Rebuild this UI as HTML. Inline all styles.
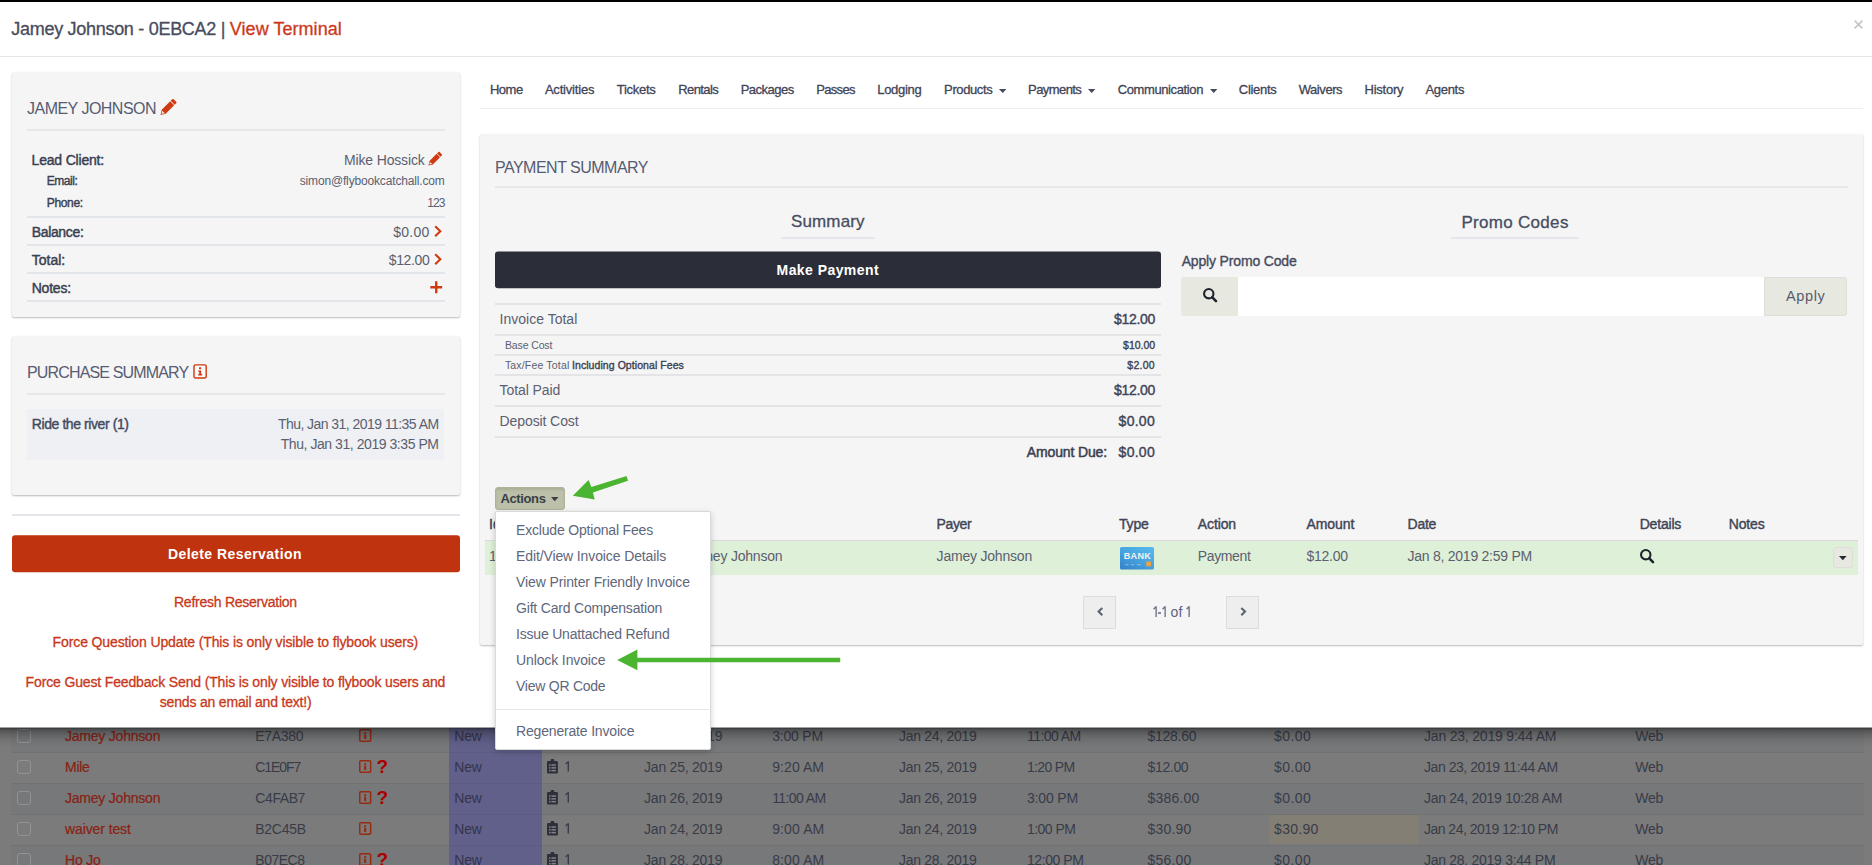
<!DOCTYPE html>
<html><head><meta charset="utf-8"><title>Reservation</title>
<style>
html,body{margin:0;padding:0}
body{width:1872px;height:865px;position:relative;overflow:hidden;background:#7b7b7b;font-family:"Liberation Sans",sans-serif;}
.t{position:absolute;white-space:nowrap;}
.b{position:absolute;box-sizing:border-box;}
svg{position:absolute;overflow:visible}
</style></head><body>
<div class="b" style="left:11px;top:720px;width:1853px;height:32px;background:#76787a;"></div>
<div class="b" style="left:11px;top:783px;width:1853px;height:31px;background:#76787a;"></div>
<div class="b" style="left:11px;top:845px;width:1853px;height:31px;background:#76787a;"></div>
<div class="b" style="left:1269px;top:814.3px;width:150px;height:30px;background:#837f75;"></div>
<div class="b" style="left:11px;top:751.5px;width:1853px;height:1px;background:#707172;"></div>
<div class="b" style="left:11px;top:782.5px;width:1853px;height:1px;background:#707172;"></div>
<div class="b" style="left:11px;top:813.5px;width:1853px;height:1px;background:#707172;"></div>
<div class="b" style="left:11px;top:844.5px;width:1853px;height:1px;background:#707172;"></div>
<div class="b" style="left:449px;top:728px;width:93px;height:140px;background:#60608a;"></div>
<div class="b" style="left:449px;top:751.5px;width:93px;height:1px;background:#5b5b85;"></div>
<div class="b" style="left:449px;top:782.5px;width:93px;height:1px;background:#5b5b85;"></div>
<div class="b" style="left:449px;top:813.5px;width:93px;height:1px;background:#5b5b85;"></div>
<div class="b" style="left:449px;top:844.5px;width:93px;height:1px;background:#5b5b85;"></div>
<div class="b" style="left:16.5px;top:728.8px;width:14px;height:14px;border:1.5px solid #929395;border-radius:3px;"></div>
<span class="t" style="left:65.00px;top:728px;line-height:16px;font-size:14px;color:#8a2112;letter-spacing:-0.220px;-webkit-text-stroke:0.2px #8a2112;">Jamey Johnson</span>
<span class="t" style="left:255.30px;top:728px;line-height:16px;font-size:14px;color:#393b48;letter-spacing:-0.303px;">E7A380</span>
<svg style="left:358.9px;top:728.8px" width="12.4" height="13" viewBox="0 0 12.4 13"><rect x="0.75" y="0.75" width="10.9" height="11.5" rx="1" fill="none" stroke="#982a10" stroke-width="1.5"/><rect x="5.1" y="3.2" width="2.1" height="1.7" fill="#982a10"/><rect x="5.1" y="5.6" width="2.1" height="4.4" fill="#982a10"/></svg>
<span class="t" style="left:454.30px;top:728px;line-height:16px;font-size:14px;color:#34344c;letter-spacing:-0.202px;">New</span>
<span class="t" style="left:772.20px;top:728px;line-height:16px;font-size:14px;color:#393b48;letter-spacing:-0.205px;">3:00 PM</span>
<span class="t" style="left:899.00px;top:728px;line-height:16px;font-size:14px;color:#393b48;letter-spacing:-0.280px;">Jan 24, 2019</span>
<span class="t" style="left:1027.00px;top:728px;line-height:16px;font-size:14px;color:#393b48;letter-spacing:-0.552px;">11:00 AM</span>
<span class="t" style="left:1147.50px;top:728px;line-height:16px;font-size:14px;color:#393b48;letter-spacing:-0.272px;">$128.60</span>
<span class="t" style="left:1274.10px;top:728px;line-height:16px;font-size:14px;color:#393b48;letter-spacing:0.413px;">$0.00</span>
<span class="t" style="left:1424.00px;top:728px;line-height:16px;font-size:14px;color:#393b48;letter-spacing:-0.196px;">Jan 23, 2019 9:44 AM</span>
<span class="t" style="left:1635.20px;top:728px;line-height:16px;font-size:14px;color:#393b48;letter-spacing:-0.244px;">Web</span>
<div class="b" style="left:16.5px;top:759.8px;width:14px;height:14px;border:1.5px solid #929395;border-radius:3px;"></div>
<span class="t" style="left:65.00px;top:759px;line-height:16px;font-size:14px;color:#8a2112;letter-spacing:-0.267px;-webkit-text-stroke:0.2px #8a2112;">Mile</span>
<span class="t" style="left:255.30px;top:759px;line-height:16px;font-size:14px;color:#393b48;letter-spacing:-1.060px;">C1E0F7</span>
<svg style="left:358.9px;top:759.8px" width="12.4" height="13" viewBox="0 0 12.4 13"><rect x="0.75" y="0.75" width="10.9" height="11.5" rx="1" fill="none" stroke="#982a10" stroke-width="1.5"/><rect x="5.1" y="3.2" width="2.1" height="1.7" fill="#982a10"/><rect x="5.1" y="5.6" width="2.1" height="4.4" fill="#982a10"/></svg>
<span class="t" style="left:376.60px;top:756px;line-height:21px;font-size:19px;color:#ac0000;font-weight:700;">?</span>
<span class="t" style="left:454.30px;top:759px;line-height:16px;font-size:14px;color:#34344c;letter-spacing:-0.202px;">New</span>
<svg style="left:547px;top:758.5999999999999px" width="10.9" height="14.6" viewBox="0 0 10.9 14.6"><rect x="0" y="1.9" width="10.9" height="12.7" rx="1.3" fill="#2d303b"/><rect x="3.7" y="0" width="3.5" height="3" rx="0.8" fill="#2d303b"/><g fill="#82838a"><rect x="2" y="5.3" width="1.5" height="1.5"/><rect x="4.4" y="5.3" width="4.5" height="1.5"/><rect x="2" y="8.1" width="1.5" height="1.5"/><rect x="4.4" y="8.1" width="4.5" height="1.5"/><rect x="2" y="10.9" width="1.5" height="1.5"/><rect x="4.4" y="10.9" width="4.5" height="1.5"/></g></svg>
<svg style="left:565px;top:760.8px" width="4.2" height="10.5" viewBox="0 0 4.2 10.5"><path d="M0.2 2.5L2.7 0.2H4V10.5H2.6V2.1L1 3.6Z" fill="#393b48"/></svg>
<span class="t" style="left:644.10px;top:759px;line-height:16px;font-size:14px;color:#393b48;letter-spacing:-0.238px;">Jan 25, 2019</span>
<span class="t" style="left:772.20px;top:759px;line-height:16px;font-size:14px;color:#393b48;letter-spacing:0.076px;">9:20 AM</span>
<span class="t" style="left:899.00px;top:759px;line-height:16px;font-size:14px;color:#393b48;letter-spacing:-0.280px;">Jan 25, 2019</span>
<span class="t" style="left:1027.00px;top:759px;line-height:16px;font-size:14px;color:#393b48;letter-spacing:-0.677px;">1:20 PM</span>
<span class="t" style="left:1147.50px;top:759px;line-height:16px;font-size:14px;color:#393b48;letter-spacing:-0.337px;">$12.00</span>
<span class="t" style="left:1274.10px;top:759px;line-height:16px;font-size:14px;color:#393b48;letter-spacing:0.413px;">$0.00</span>
<span class="t" style="left:1424.00px;top:759px;line-height:16px;font-size:14px;color:#393b48;letter-spacing:-0.446px;">Jan 23, 2019 11:44 AM</span>
<span class="t" style="left:1635.20px;top:759px;line-height:16px;font-size:14px;color:#393b48;letter-spacing:-0.244px;">Web</span>
<div class="b" style="left:16.5px;top:790.8px;width:14px;height:14px;border:1.5px solid #929395;border-radius:3px;"></div>
<span class="t" style="left:65.00px;top:790px;line-height:16px;font-size:14px;color:#8a2112;letter-spacing:-0.220px;-webkit-text-stroke:0.2px #8a2112;">Jamey Johnson</span>
<span class="t" style="left:255.30px;top:790px;line-height:16px;font-size:14px;color:#393b48;letter-spacing:-0.406px;">C4FAB7</span>
<svg style="left:358.9px;top:790.8px" width="12.4" height="13" viewBox="0 0 12.4 13"><rect x="0.75" y="0.75" width="10.9" height="11.5" rx="1" fill="none" stroke="#982a10" stroke-width="1.5"/><rect x="5.1" y="3.2" width="2.1" height="1.7" fill="#982a10"/><rect x="5.1" y="5.6" width="2.1" height="4.4" fill="#982a10"/></svg>
<span class="t" style="left:376.60px;top:787px;line-height:21px;font-size:19px;color:#ac0000;font-weight:700;">?</span>
<span class="t" style="left:454.30px;top:790px;line-height:16px;font-size:14px;color:#34344c;letter-spacing:-0.202px;">New</span>
<svg style="left:547px;top:789.5999999999999px" width="10.9" height="14.6" viewBox="0 0 10.9 14.6"><rect x="0" y="1.9" width="10.9" height="12.7" rx="1.3" fill="#2d303b"/><rect x="3.7" y="0" width="3.5" height="3" rx="0.8" fill="#2d303b"/><g fill="#82838a"><rect x="2" y="5.3" width="1.5" height="1.5"/><rect x="4.4" y="5.3" width="4.5" height="1.5"/><rect x="2" y="8.1" width="1.5" height="1.5"/><rect x="4.4" y="8.1" width="4.5" height="1.5"/><rect x="2" y="10.9" width="1.5" height="1.5"/><rect x="4.4" y="10.9" width="4.5" height="1.5"/></g></svg>
<svg style="left:565px;top:791.8px" width="4.2" height="10.5" viewBox="0 0 4.2 10.5"><path d="M0.2 2.5L2.7 0.2H4V10.5H2.6V2.1L1 3.6Z" fill="#393b48"/></svg>
<span class="t" style="left:644.10px;top:790px;line-height:16px;font-size:14px;color:#393b48;letter-spacing:-0.238px;">Jan 26, 2019</span>
<span class="t" style="left:772.20px;top:790px;line-height:16px;font-size:14px;color:#393b48;letter-spacing:-0.589px;">11:00 AM</span>
<span class="t" style="left:899.00px;top:790px;line-height:16px;font-size:14px;color:#393b48;letter-spacing:-0.280px;">Jan 26, 2019</span>
<span class="t" style="left:1027.00px;top:790px;line-height:16px;font-size:14px;color:#393b48;letter-spacing:-0.163px;">3:00 PM</span>
<span class="t" style="left:1147.50px;top:790px;line-height:16px;font-size:14px;color:#393b48;letter-spacing:0.199px;">$386.00</span>
<span class="t" style="left:1274.10px;top:790px;line-height:16px;font-size:14px;color:#393b48;letter-spacing:0.413px;">$0.00</span>
<span class="t" style="left:1424.00px;top:790px;line-height:16px;font-size:14px;color:#393b48;letter-spacing:-0.281px;">Jan 24, 2019 10:28 AM</span>
<span class="t" style="left:1635.20px;top:790px;line-height:16px;font-size:14px;color:#393b48;letter-spacing:-0.244px;">Web</span>
<div class="b" style="left:16.5px;top:821.8px;width:14px;height:14px;border:1.5px solid #929395;border-radius:3px;"></div>
<span class="t" style="left:65.00px;top:821px;line-height:16px;font-size:14px;color:#8a2112;letter-spacing:-0.101px;-webkit-text-stroke:0.2px #8a2112;">waiver test</span>
<span class="t" style="left:255.30px;top:821px;line-height:16px;font-size:14px;color:#393b48;letter-spacing:-0.274px;">B2C45B</span>
<svg style="left:358.9px;top:821.8px" width="12.4" height="13" viewBox="0 0 12.4 13"><rect x="0.75" y="0.75" width="10.9" height="11.5" rx="1" fill="none" stroke="#982a10" stroke-width="1.5"/><rect x="5.1" y="3.2" width="2.1" height="1.7" fill="#982a10"/><rect x="5.1" y="5.6" width="2.1" height="4.4" fill="#982a10"/></svg>
<span class="t" style="left:454.30px;top:821px;line-height:16px;font-size:14px;color:#34344c;letter-spacing:-0.202px;">New</span>
<svg style="left:547px;top:820.5999999999999px" width="10.9" height="14.6" viewBox="0 0 10.9 14.6"><rect x="0" y="1.9" width="10.9" height="12.7" rx="1.3" fill="#2d303b"/><rect x="3.7" y="0" width="3.5" height="3" rx="0.8" fill="#2d303b"/><g fill="#82838a"><rect x="2" y="5.3" width="1.5" height="1.5"/><rect x="4.4" y="5.3" width="4.5" height="1.5"/><rect x="2" y="8.1" width="1.5" height="1.5"/><rect x="4.4" y="8.1" width="4.5" height="1.5"/><rect x="2" y="10.9" width="1.5" height="1.5"/><rect x="4.4" y="10.9" width="4.5" height="1.5"/></g></svg>
<svg style="left:565px;top:822.8px" width="4.2" height="10.5" viewBox="0 0 4.2 10.5"><path d="M0.2 2.5L2.7 0.2H4V10.5H2.6V2.1L1 3.6Z" fill="#393b48"/></svg>
<span class="t" style="left:644.10px;top:821px;line-height:16px;font-size:14px;color:#393b48;letter-spacing:-0.238px;">Jan 24, 2019</span>
<span class="t" style="left:772.20px;top:821px;line-height:16px;font-size:14px;color:#393b48;letter-spacing:0.119px;">9:00 AM</span>
<span class="t" style="left:899.00px;top:821px;line-height:16px;font-size:14px;color:#393b48;letter-spacing:-0.280px;">Jan 24, 2019</span>
<span class="t" style="left:1027.00px;top:821px;line-height:16px;font-size:14px;color:#393b48;letter-spacing:-0.548px;">1:00 PM</span>
<span class="t" style="left:1147.50px;top:821px;line-height:16px;font-size:14px;color:#393b48;letter-spacing:0.213px;">$30.90</span>
<span class="t" style="left:1274.10px;top:821px;line-height:16px;font-size:14px;color:#393b48;letter-spacing:0.263px;">$30.90</span>
<span class="t" style="left:1424.00px;top:821px;line-height:16px;font-size:14px;color:#393b48;letter-spacing:-0.522px;">Jan 24, 2019 12:10 PM</span>
<span class="t" style="left:1635.20px;top:821px;line-height:16px;font-size:14px;color:#393b48;letter-spacing:-0.244px;">Web</span>
<div class="b" style="left:16.5px;top:852.8px;width:14px;height:14px;border:1.5px solid #929395;border-radius:3px;"></div>
<span class="t" style="left:65.00px;top:852px;line-height:16px;font-size:14px;color:#8a2112;letter-spacing:-0.174px;-webkit-text-stroke:0.2px #8a2112;">Ho Jo</span>
<span class="t" style="left:255.30px;top:852px;line-height:16px;font-size:14px;color:#393b48;letter-spacing:-0.491px;">B07EC8</span>
<svg style="left:358.9px;top:852.8px" width="12.4" height="13" viewBox="0 0 12.4 13"><rect x="0.75" y="0.75" width="10.9" height="11.5" rx="1" fill="none" stroke="#982a10" stroke-width="1.5"/><rect x="5.1" y="3.2" width="2.1" height="1.7" fill="#982a10"/><rect x="5.1" y="5.6" width="2.1" height="4.4" fill="#982a10"/></svg>
<span class="t" style="left:376.60px;top:849px;line-height:21px;font-size:19px;color:#ac0000;font-weight:700;">?</span>
<span class="t" style="left:454.30px;top:852px;line-height:16px;font-size:14px;color:#34344c;letter-spacing:-0.202px;">New</span>
<svg style="left:547px;top:851.5999999999999px" width="10.9" height="14.6" viewBox="0 0 10.9 14.6"><rect x="0" y="1.9" width="10.9" height="12.7" rx="1.3" fill="#2d303b"/><rect x="3.7" y="0" width="3.5" height="3" rx="0.8" fill="#2d303b"/><g fill="#82838a"><rect x="2" y="5.3" width="1.5" height="1.5"/><rect x="4.4" y="5.3" width="4.5" height="1.5"/><rect x="2" y="8.1" width="1.5" height="1.5"/><rect x="4.4" y="8.1" width="4.5" height="1.5"/><rect x="2" y="10.9" width="1.5" height="1.5"/><rect x="4.4" y="10.9" width="4.5" height="1.5"/></g></svg>
<svg style="left:565px;top:853.8px" width="4.2" height="10.5" viewBox="0 0 4.2 10.5"><path d="M0.2 2.5L2.7 0.2H4V10.5H2.6V2.1L1 3.6Z" fill="#393b48"/></svg>
<span class="t" style="left:644.10px;top:852px;line-height:16px;font-size:14px;color:#393b48;letter-spacing:-0.238px;">Jan 28, 2019</span>
<span class="t" style="left:772.20px;top:852px;line-height:16px;font-size:14px;color:#393b48;letter-spacing:0.119px;">8:00 AM</span>
<span class="t" style="left:899.00px;top:852px;line-height:16px;font-size:14px;color:#393b48;letter-spacing:-0.280px;">Jan 28, 2019</span>
<span class="t" style="left:1027.00px;top:852px;line-height:16px;font-size:14px;color:#393b48;letter-spacing:-0.440px;">12:00 PM</span>
<span class="t" style="left:1147.50px;top:852px;line-height:16px;font-size:14px;color:#393b48;letter-spacing:0.213px;">$56.00</span>
<span class="t" style="left:1274.10px;top:852px;line-height:16px;font-size:14px;color:#393b48;letter-spacing:0.413px;">$0.00</span>
<span class="t" style="left:1424.00px;top:852px;line-height:16px;font-size:14px;color:#393b48;letter-spacing:-0.284px;">Jan 28, 2019 3:44 PM</span>
<span class="t" style="left:1635.20px;top:852px;line-height:16px;font-size:14px;color:#393b48;letter-spacing:-0.244px;">Web</span>
<span class="t" style="left:644.10px;top:728px;line-height:16px;font-size:14px;color:#393b48;letter-spacing:-0.238px;">Jan 24, 2019</span>
<div class="b" style="left:0px;top:728px;width:1872px;height:20px;background:linear-gradient(to bottom,rgba(0,0,0,.49) 0.5px,rgba(0,0,0,.38) 1.5px,rgba(0,0,0,.33) 2.5px,rgba(0,0,0,.28) 3.5px,rgba(0,0,0,.25) 4.5px,rgba(0,0,0,.22) 5.5px,rgba(0,0,0,.175) 7px,rgba(0,0,0,.09) 11px,rgba(0,0,0,.033) 15.5px,rgba(0,0,0,0) 20px);"></div>
<div class="b" style="left:0px;top:0px;width:1872px;height:727px;background:#fff;"></div>
<div class="b" style="left:0px;top:727px;width:1872px;height:1px;background:#a2a2a2;"></div>
<div class="b" style="left:0px;top:0px;width:1872px;height:1.5px;background:#000;"></div>
<div class="b" style="left:0px;top:56.2px;width:1872px;height:1px;background:#e5e5e5;"></div>
<span class="t" style="left:11.30px;top:19px;line-height:20px;font-size:18px;color:#474c60;letter-spacing:-0.291px;-webkit-text-stroke:0.3px #474c60;">Jamey Johnson - 0EBCA2 | </span>
<span class="t" style="left:229.80px;top:19px;line-height:20px;font-size:18px;color:#cc391a;letter-spacing:0.047px;-webkit-text-stroke:0.3px #cc391a;">View Terminal</span>
<svg style="left:1854px;top:20px" width="9" height="9" viewBox="0 0 9 9"><path d="M0.6 0.6L8.4 8.4M8.4 0.6L0.6 8.4" stroke="#c4c4c4" stroke-width="1.5" fill="none"/></svg>
<div class="b" style="left:11.5px;top:72px;width:448.5px;height:244.5px;background:#f5f5f5;box-shadow:0 1px 2px rgba(0,0,0,.28);border-radius:2px;"></div>
<span class="t" style="left:27.00px;top:100px;line-height:17px;font-size:16px;color:#565c72;letter-spacing:-0.517px;">JAMEY JOHNSON</span>
<svg style="left:159.8px;top:98.3px" width="17.2" height="17.50" viewBox="0 0 17 17.3"><path d="M0.5 16.8L1.7 11.64L10.04 3.3L14 7.26L5.66 15.6Z" fill="#d03a13"/><path d="M1.56 15.74L2.13 12.49L4.81 15.17Z" fill="#f8e6dc"/><path d="M10.54 2.8L12.1 1.24c0.4-0.4 1-0.4 1.4 0l2.56 2.56c0.4 0.4 0.4 1 0 1.4L14.5 6.76Z" fill="#d03a13"/></svg>
<div class="b" style="left:27px;top:129.3px;width:418px;height:1.6px;background:#e7e7e9;"></div>
<span class="t" style="left:31.60px;top:152px;line-height:16px;font-size:14px;color:#3a3f51;letter-spacing:-0.193px;-webkit-text-stroke:0.45px #3a3f51;">Lead Client:</span>
<span class="t" style="left:344.00px;top:152px;line-height:16px;font-size:14px;color:#5b6070;letter-spacing:-0.155px;">Mike Hossick</span>
<svg style="left:428.4px;top:151.3px" width="14.6" height="14.86" viewBox="0 0 17 17.3"><path d="M0.5 16.8L1.7 11.64L10.04 3.3L14 7.26L5.66 15.6Z" fill="#d03a13"/><path d="M1.56 15.74L2.13 12.49L4.81 15.17Z" fill="#f8e6dc"/><path d="M10.54 2.8L12.1 1.24c0.4-0.4 1-0.4 1.4 0l2.56 2.56c0.4 0.4 0.4 1 0 1.4L14.5 6.76Z" fill="#d03a13"/></svg>
<span class="t" style="left:46.70px;top:174px;line-height:14px;font-size:12px;color:#3a3f51;letter-spacing:-0.440px;-webkit-text-stroke:0.4px #3a3f51;">Email:</span>
<span class="t" style="left:299.70px;top:174px;line-height:14px;font-size:12px;color:#5b6070;letter-spacing:-0.156px;">simon@flybookcatchall.com</span>
<span class="t" style="left:46.70px;top:196px;line-height:14px;font-size:12px;color:#3a3f51;letter-spacing:-0.306px;-webkit-text-stroke:0.4px #3a3f51;">Phone:</span>
<span class="t" style="left:427.20px;top:196px;line-height:14px;font-size:12px;color:#5b6070;letter-spacing:-0.840px;">123</span>
<div class="b" style="left:27px;top:216px;width:418px;height:2px;background:#e2e5ea;"></div>
<div class="b" style="left:27px;top:244px;width:418px;height:2px;background:#e2e5ea;"></div>
<div class="b" style="left:27px;top:272px;width:418px;height:2px;background:#e2e5ea;"></div>
<div class="b" style="left:27px;top:300px;width:418px;height:2px;background:#e2e5ea;"></div>
<span class="t" style="left:31.70px;top:224px;line-height:16px;font-size:14px;color:#3a3f51;letter-spacing:-0.335px;-webkit-text-stroke:0.45px #3a3f51;">Balance:</span>
<span class="t" style="left:393.20px;top:224px;line-height:16px;font-size:14px;color:#5b6070;letter-spacing:0.253px;">$0.00</span>
<svg style="left:434px;top:225px" width="8" height="12.3" viewBox="0 0 8 12"><path d="M1.2 1L6.3 6L1.2 11" stroke="#d03a13" stroke-width="2.1" fill="none"/></svg>
<span class="t" style="left:31.70px;top:252px;line-height:16px;font-size:14px;color:#3a3f51;letter-spacing:0.006px;-webkit-text-stroke:0.45px #3a3f51;">Total:</span>
<span class="t" style="left:388.70px;top:252px;line-height:16px;font-size:14px;color:#5b6070;letter-spacing:-0.337px;">$12.00</span>
<svg style="left:434px;top:253px" width="8" height="12.3" viewBox="0 0 8 12"><path d="M1.2 1L6.3 6L1.2 11" stroke="#d03a13" stroke-width="2.1" fill="none"/></svg>
<span class="t" style="left:31.70px;top:280px;line-height:16px;font-size:14px;color:#3a3f51;letter-spacing:-0.210px;-webkit-text-stroke:0.45px #3a3f51;">Notes:</span>
<svg style="left:430px;top:281px" width="12.5" height="12.5" viewBox="0 0 12 12"><path d="M6 0.3V11.7M0.3 6H11.7" stroke="#d03a13" stroke-width="2.3"/></svg>
<div class="b" style="left:11.5px;top:335.5px;width:448.5px;height:159.3px;background:#f5f5f5;box-shadow:0 1px 2px rgba(0,0,0,.28);border-radius:2px;"></div>
<span class="t" style="left:27.00px;top:364px;line-height:17px;font-size:16px;color:#565c72;letter-spacing:-0.853px;">PURCHASE SUMMARY</span>
<svg style="left:192.9px;top:364.1px" width="14.2" height="14.9" viewBox="0 0 14 14.9"><rect x="0.9" y="0.9" width="12.2" height="13.1" rx="1.4" fill="#fafafa" stroke="#d03a13" stroke-width="1.45"/><rect x="5.9" y="3.3" width="2.2" height="1.9" fill="#d03a13"/><path d="M5.1 6.4h3v3.7h1v1.3H5.1v-1.3h1V7.7h-1z" fill="#d03a13"/></svg>
<div class="b" style="left:27px;top:393.3px;width:418px;height:1.6px;background:#e7e7e9;"></div>
<div class="b" style="left:27px;top:409px;width:417px;height:50.5px;background:#eef0f4;"></div>
<span class="t" style="left:31.80px;top:416px;line-height:16px;font-size:14px;color:#444a5e;letter-spacing:-0.420px;-webkit-text-stroke:0.4px #444a5e;">Ride the river (1)</span>
<span class="t" style="left:277.90px;top:416px;line-height:16px;font-size:14px;color:#5b6070;letter-spacing:-0.545px;">Thu, Jan 31, 2019 11:35 AM</span>
<span class="t" style="left:280.70px;top:436px;line-height:16px;font-size:14px;color:#5b6070;letter-spacing:-0.440px;">Thu, Jan 31, 2019 3:35 PM</span>
<div class="b" style="left:12px;top:513.8px;width:448px;height:1.8px;background:#e4e6ec;"></div>
<svg style="left:12px;top:534px" width="448" height="40"><rect x="0" y="1.35" width="448" height="37" rx="3" fill="#bf330e"/></svg>
<span class="t" style="left:167.90px;top:546px;line-height:16px;font-size:14px;color:#fff;font-weight:700;letter-spacing:0.447px;">Delete Reservation</span>
<span class="t" style="left:174.00px;top:594px;line-height:16px;font-size:14px;color:#c8381a;letter-spacing:-0.253px;-webkit-text-stroke:0.3px #c8381a;">Refresh Reservation</span>
<span class="t" style="left:52.60px;top:634px;line-height:16px;font-size:14px;color:#c8381a;letter-spacing:-0.117px;-webkit-text-stroke:0.3px #c8381a;">Force Question Update (This is only visible to flybook users)</span>
<span class="t" style="left:25.60px;top:674px;line-height:16px;font-size:14px;color:#c8381a;letter-spacing:-0.146px;-webkit-text-stroke:0.3px #c8381a;">Force Guest Feedback Send (This is only visible to flybook users and</span>
<span class="t" style="left:159.80px;top:694px;line-height:16px;font-size:14px;color:#c8381a;letter-spacing:-0.189px;-webkit-text-stroke:0.3px #c8381a;">sends an email and text!)</span>
<span class="t" style="left:489.90px;top:82px;line-height:15px;font-size:13px;color:#3f4456;letter-spacing:-0.469px;-webkit-text-stroke:0.3px #3f4456;">Home</span>
<span class="t" style="left:544.90px;top:82px;line-height:15px;font-size:13px;color:#3f4456;letter-spacing:-0.189px;-webkit-text-stroke:0.3px #3f4456;">Activities</span>
<span class="t" style="left:616.80px;top:82px;line-height:15px;font-size:13px;color:#3f4456;letter-spacing:-0.284px;-webkit-text-stroke:0.3px #3f4456;">Tickets</span>
<span class="t" style="left:678.20px;top:82px;line-height:15px;font-size:13px;color:#3f4456;letter-spacing:-0.583px;-webkit-text-stroke:0.3px #3f4456;">Rentals</span>
<span class="t" style="left:740.70px;top:82px;line-height:15px;font-size:13px;color:#3f4456;letter-spacing:-0.499px;-webkit-text-stroke:0.3px #3f4456;">Packages</span>
<span class="t" style="left:816.30px;top:82px;line-height:15px;font-size:13px;color:#3f4456;letter-spacing:-0.705px;-webkit-text-stroke:0.3px #3f4456;">Passes</span>
<span class="t" style="left:877.20px;top:82px;line-height:15px;font-size:13px;color:#3f4456;letter-spacing:-0.281px;-webkit-text-stroke:0.3px #3f4456;">Lodging</span>
<span class="t" style="left:944.10px;top:82px;line-height:15px;font-size:13px;color:#3f4456;letter-spacing:-0.388px;-webkit-text-stroke:0.3px #3f4456;">Products</span>
<span class="t" style="left:1028.10px;top:82px;line-height:15px;font-size:13px;color:#3f4456;letter-spacing:-0.575px;-webkit-text-stroke:0.3px #3f4456;">Payments</span>
<span class="t" style="left:1117.70px;top:82px;line-height:15px;font-size:13px;color:#3f4456;letter-spacing:-0.386px;-webkit-text-stroke:0.3px #3f4456;">Communication</span>
<span class="t" style="left:1238.80px;top:82px;line-height:15px;font-size:13px;color:#3f4456;letter-spacing:-0.305px;-webkit-text-stroke:0.3px #3f4456;">Clients</span>
<span class="t" style="left:1298.70px;top:82px;line-height:15px;font-size:13px;color:#3f4456;letter-spacing:-0.424px;-webkit-text-stroke:0.3px #3f4456;">Waivers</span>
<span class="t" style="left:1364.50px;top:82px;line-height:15px;font-size:13px;color:#3f4456;letter-spacing:-0.235px;-webkit-text-stroke:0.3px #3f4456;">History</span>
<span class="t" style="left:1425.40px;top:82px;line-height:15px;font-size:13px;color:#3f4456;letter-spacing:-0.295px;-webkit-text-stroke:0.3px #3f4456;">Agents</span>
<svg style="left:999.2px;top:88.8px" width="7.4" height="4.1" viewBox="0 0 7.4 4.1"><path d="M0 0H7.4L3.7 4.1Z" fill="#454a5d"/></svg>
<svg style="left:1088.4px;top:88.8px" width="7.4" height="4.1" viewBox="0 0 7.4 4.1"><path d="M0 0H7.4L3.7 4.1Z" fill="#454a5d"/></svg>
<svg style="left:1210px;top:88.8px" width="7.4" height="4.1" viewBox="0 0 7.4 4.1"><path d="M0 0H7.4L3.7 4.1Z" fill="#454a5d"/></svg>
<div class="b" style="left:480px;top:107.8px;width:1383px;height:1.6px;background:#eeeeee;"></div>
<div class="b" style="left:479.5px;top:134px;width:1383.5px;height:510.5px;background:#f5f5f5;box-shadow:0 1px 2px rgba(0,0,0,.28);border-radius:2px;"></div>
<span class="t" style="left:495.00px;top:159px;line-height:17px;font-size:16px;color:#565c72;letter-spacing:-0.508px;">PAYMENT SUMMARY</span>
<div class="b" style="left:495px;top:186.3px;width:1353px;height:1.6px;background:#e7e7e9;"></div>
<span class="t" style="left:790.90px;top:212px;line-height:19px;font-size:17px;color:#474d61;letter-spacing:0.167px;-webkit-text-stroke:0.3px #474d61;">Summary</span>
<div class="b" style="left:781px;top:237px;width:94px;height:1.5px;background:#e3e6ea;"></div>
<span class="t" style="left:1461.40px;top:213px;line-height:19px;font-size:17px;color:#474d61;letter-spacing:0.306px;-webkit-text-stroke:0.3px #474d61;">Promo Codes</span>
<div class="b" style="left:1451px;top:237px;width:128px;height:1.5px;background:#e3e6ea;"></div>
<svg style="left:495px;top:250px" width="666" height="40"><rect x="0" y="1.6" width="666" height="36.6" rx="3" fill="#2b2e38"/></svg>
<span class="t" style="left:776.55px;top:262px;line-height:16px;font-size:14px;color:#fff;font-weight:700;letter-spacing:0.436px;">Make Payment</span>
<div class="b" style="left:495px;top:303.2px;width:666px;height:1.6px;background:#e4e4e6;"></div>
<div class="b" style="left:495px;top:334.1px;width:666px;height:1.6px;background:#e4e4e6;"></div>
<div class="b" style="left:495px;top:354.3px;width:666px;height:1.6px;background:#e4e4e6;"></div>
<div class="b" style="left:495px;top:374.4px;width:666px;height:1.6px;background:#e4e4e6;"></div>
<div class="b" style="left:495px;top:405.1px;width:666px;height:1.6px;background:#e4e4e6;"></div>
<div class="b" style="left:495px;top:436.2px;width:666px;height:1.6px;background:#e4e4e6;"></div>
<span class="t" style="left:499.60px;top:311px;line-height:16px;font-size:14px;color:#5b6070;letter-spacing:0.010px;">Invoice Total</span>
<span class="t" style="left:1114.00px;top:311px;line-height:16px;font-size:14px;color:#3f4457;letter-spacing:-0.303px;-webkit-text-stroke:0.4px #3f4457;">$12.00</span>
<span class="t" style="left:504.90px;top:339px;line-height:12px;font-size:10.5px;color:#5b6070;letter-spacing:-0.115px;">Base Cost</span>
<span class="t" style="left:1123.10px;top:339px;line-height:12px;font-size:10.5px;color:#3a3f51;letter-spacing:-0.036px;-webkit-text-stroke:0.35px #3a3f51;">$10.00</span>
<span class="t" style="left:504.90px;top:359px;line-height:12px;font-size:10.5px;color:#5b6070;letter-spacing:0.173px;">Tax/Fee Total</span>
<span class="t" style="left:572.00px;top:359px;line-height:12px;font-size:10.5px;color:#3a3f51;letter-spacing:0.069px;-webkit-text-stroke:0.35px #3a3f51;">Including Optional Fees</span>
<span class="t" style="left:1127.30px;top:359px;line-height:12px;font-size:10.5px;color:#3a3f51;letter-spacing:0.285px;-webkit-text-stroke:0.35px #3a3f51;">$2.00</span>
<span class="t" style="left:499.60px;top:382px;line-height:16px;font-size:14px;color:#5b6070;letter-spacing:-0.078px;">Total Paid</span>
<span class="t" style="left:1114.00px;top:382px;line-height:16px;font-size:14px;color:#3f4457;letter-spacing:-0.303px;-webkit-text-stroke:0.4px #3f4457;">$12.00</span>
<span class="t" style="left:499.60px;top:413px;line-height:16px;font-size:14px;color:#5b6070;letter-spacing:-0.104px;">Deposit Cost</span>
<span class="t" style="left:1118.60px;top:413px;line-height:16px;font-size:14px;color:#3f4457;letter-spacing:0.273px;-webkit-text-stroke:0.4px #3f4457;">$0.00</span>
<span class="t" style="left:1026.80px;top:444px;line-height:16px;font-size:14px;color:#3a3f51;letter-spacing:-0.137px;-webkit-text-stroke:0.5px #3a3f51;">Amount Due:</span>
<span class="t" style="left:1118.60px;top:444px;line-height:16px;font-size:14px;color:#3f4457;letter-spacing:0.273px;-webkit-text-stroke:0.4px #3f4457;">$0.00</span>
<span class="t" style="left:1181.70px;top:253px;line-height:16px;font-size:14px;color:#454a5e;letter-spacing:-0.163px;-webkit-text-stroke:0.35px #454a5e;">Apply Promo Code</span>
<div class="b" style="left:1181px;top:277px;width:57.2px;height:38.5px;background:#e7e8e0;border-radius:3px 0 0 3px;"></div>
<div class="b" style="left:1238.2px;top:277px;width:525.8px;height:38.5px;background:#fff;"></div>
<div class="b" style="left:1764px;top:277px;width:83px;height:38.5px;background:#e7e8e0;border-radius:0 3px 3px 0;border:1px solid #dededa;"></div>
<span class="t" style="left:1786.00px;top:288px;line-height:16px;font-size:14.5px;color:#575c6c;letter-spacing:0.646px;">Apply</span>
<svg style="left:1203px;top:288.2px" width="14.5" height="14.5" viewBox="0 0 14.5 14.5"><circle cx="5.75" cy="5.7" r="4.7" fill="none" stroke="#1f232d" stroke-width="2.1"/><path d="M9.3 9.3L13 13.1" stroke="#1f232d" stroke-width="2.6" stroke-linecap="round"/></svg>
<div class="b" style="left:495px;top:487.2px;width:70px;height:22.4px;background:#bcc0a9;border-radius:3px;border:1px solid #aeb297;box-shadow:inset 0 2px 2px rgba(90,95,60,.16);"></div>
<span class="t" style="left:500.50px;top:491px;line-height:15px;font-size:13px;color:#3a3f45;font-weight:700;letter-spacing:-0.382px;">Actions</span>
<svg style="left:551px;top:496.5px" width="7.5" height="4.2" viewBox="0 0 7.5 4.2"><path d="M0 0H7.5L3.75 4.2Z" fill="#3a3f45"/></svg>
<span class="t" style="left:489.00px;top:516px;line-height:16px;font-size:14px;color:#3f4456;-webkit-text-stroke:0.4px #3f4456;">Id</span>
<span class="t" style="left:936.60px;top:516px;line-height:16px;font-size:14px;color:#3f4456;letter-spacing:-0.374px;-webkit-text-stroke:0.4px #3f4456;">Payer</span>
<span class="t" style="left:1119.00px;top:516px;line-height:16px;font-size:14px;color:#3f4456;letter-spacing:-0.163px;-webkit-text-stroke:0.4px #3f4456;">Type</span>
<span class="t" style="left:1197.80px;top:516px;line-height:16px;font-size:14px;color:#3f4456;letter-spacing:-0.118px;-webkit-text-stroke:0.4px #3f4456;">Action</span>
<span class="t" style="left:1306.50px;top:516px;line-height:16px;font-size:14px;color:#3f4456;letter-spacing:-0.075px;-webkit-text-stroke:0.4px #3f4456;">Amount</span>
<span class="t" style="left:1407.60px;top:516px;line-height:16px;font-size:14px;color:#3f4456;letter-spacing:-0.293px;-webkit-text-stroke:0.4px #3f4456;">Date</span>
<span class="t" style="left:1639.70px;top:516px;line-height:16px;font-size:14px;color:#3f4456;letter-spacing:-0.185px;-webkit-text-stroke:0.4px #3f4456;">Details</span>
<span class="t" style="left:1728.80px;top:516px;line-height:16px;font-size:14px;color:#3f4456;letter-spacing:-0.174px;-webkit-text-stroke:0.4px #3f4456;">Notes</span>
<div class="b" style="left:485px;top:539.9px;width:1373px;height:1.4px;background:#d9d9d9;"></div>
<div class="b" style="left:485px;top:541.2px;width:1373px;height:34px;background:#dff0d8;"></div>
<span class="t" style="left:489.00px;top:548px;line-height:16px;font-size:14px;color:#5b6070;">1</span>
<span class="t" style="left:687.00px;top:548px;line-height:16px;font-size:14px;color:#5b6070;letter-spacing:-0.204px;">Jamey Johnson</span>
<span class="t" style="left:936.60px;top:548px;line-height:16px;font-size:14px;color:#5b6070;letter-spacing:-0.204px;">Jamey Johnson</span>
<span class="t" style="left:1197.80px;top:548px;line-height:16px;font-size:14px;color:#5b6070;letter-spacing:-0.378px;">Payment</span>
<span class="t" style="left:1306.50px;top:548px;line-height:16px;font-size:14px;color:#5b6070;letter-spacing:-0.270px;">$12.00</span>
<span class="t" style="left:1407.60px;top:548px;line-height:16px;font-size:14px;color:#5b6070;letter-spacing:-0.258px;">Jan 8, 2019 2:59 PM</span>
<svg style="left:1120px;top:547.3px" width="34" height="22.6" viewBox="0 0 34 22.6"><defs><linearGradient id="bk" x1="0" y1="1" x2="0.75" y2="0"><stop offset="0" stop-color="#3380c6"/><stop offset="0.55" stop-color="#47a3df"/><stop offset="1" stop-color="#52b6ea"/></linearGradient></defs><rect width="34" height="22.6" rx="1.6" fill="url(#bk)"/><text x="17.4" y="12.1" font-family="Liberation Sans,sans-serif" font-weight="700" font-size="9.1" fill="#f4f1ee" text-anchor="middle" letter-spacing="0.25">BANK</text><rect x="5" y="17" width="3.6" height="1.3" fill="#8db9e6" opacity=".8"/><rect x="11" y="17" width="3.2" height="1.3" fill="#8db9e6" opacity=".8"/><rect x="17" y="17" width="4" height="1.3" fill="#8db9e6" opacity=".8"/><rect x="26.3" y="14.6" width="4.7" height="4.7" fill="#f0a23e"/></svg>
<svg style="left:1639.7px;top:548.5px" width="14.5" height="14.5" viewBox="0 0 14.5 14.5"><circle cx="5.75" cy="5.7" r="4.7" fill="none" stroke="#1f232d" stroke-width="2.1"/><path d="M9.3 9.3L13 13.1" stroke="#1f232d" stroke-width="2.6" stroke-linecap="round"/></svg>
<div class="b" style="left:1833.2px;top:546.7px;width:19.6px;height:21.7px;background:#e7e8e0;border-radius:3px;border:1px solid #dddeda;"></div>
<svg style="left:1839.2px;top:556.1px" width="7.6" height="4.3" viewBox="0 0 7.6 4.3"><path d="M0 0H7.6L3.8 4.3Z" fill="#242835"/></svg>
<div class="b" style="left:1083.4px;top:595.5px;width:32.5px;height:33.5px;background:#eeeeee;border:1px solid #dcdcdc;"></div>
<div class="b" style="left:1226.2px;top:595.5px;width:32.6px;height:33.5px;background:#eeeeee;border:1px solid #dcdcdc;"></div>
<svg style="left:1096.7px;top:606.9px" width="6.6" height="9.2" viewBox="0 0 6.6 9.2"><path d="M5.3 1L1.6 4.6L5.3 8.2" stroke="#5d6174" stroke-width="2.1" fill="none"/></svg>
<svg style="left:1239.7px;top:606.9px" width="6.6" height="9.2" viewBox="0 0 6.6 9.2"><path d="M1.3 1L5 4.6L1.3 8.2" stroke="#5d6174" stroke-width="2.1" fill="none"/></svg>
<svg style="left:1152.9px;top:606px" width="4" height="10.9" viewBox="0 0 4.2 10.5" preserveAspectRatio="none"><path d="M0.2 2.5L2.7 0.2H4V10.5H2.6V2.1L1 3.6Z" fill="#6a7085"/></svg>
<div class="b" style="left:1158.1px;top:612.2px;width:2.9px;height:1.5px;background:#858a9c;"></div>
<svg style="left:1161.8px;top:606px" width="4" height="10.9" viewBox="0 0 4.2 10.5" preserveAspectRatio="none"><path d="M0.2 2.5L2.7 0.2H4V10.5H2.6V2.1L1 3.6Z" fill="#6a7085"/></svg>
<span class="t" style="left:1170.50px;top:604px;line-height:16px;font-size:14px;color:#5c6278;letter-spacing:0.162px;">of</span>
<svg style="left:1185.7px;top:606px" width="4" height="10.9" viewBox="0 0 4.2 10.5" preserveAspectRatio="none"><path d="M0.2 2.5L2.7 0.2H4V10.5H2.6V2.1L1 3.6Z" fill="#6a7085"/></svg>
<div class="b" style="left:495.3px;top:511px;width:215.8px;height:239px;background:#fff;border:1px solid #d9d9d9;border-radius:2px;box-shadow:0 2px 6px rgba(0,0,0,.18);"></div>
<span class="t" style="left:516.00px;top:522px;line-height:16px;font-size:14px;color:#60667b;letter-spacing:-0.184px;">Exclude Optional Fees</span>
<span class="t" style="left:516.00px;top:548px;line-height:16px;font-size:14px;color:#60667b;letter-spacing:-0.117px;">Edit/View Invoice Details</span>
<span class="t" style="left:516.00px;top:574px;line-height:16px;font-size:14px;color:#60667b;letter-spacing:-0.112px;">View Printer Friendly Invoice</span>
<span class="t" style="left:516.00px;top:600px;line-height:16px;font-size:14px;color:#60667b;letter-spacing:-0.185px;">Gift Card Compensation</span>
<span class="t" style="left:516.00px;top:626px;line-height:16px;font-size:14px;color:#60667b;letter-spacing:-0.195px;">Issue Unattached Refund</span>
<span class="t" style="left:516.00px;top:652px;line-height:16px;font-size:14px;color:#60667b;letter-spacing:-0.117px;">Unlock Invoice</span>
<span class="t" style="left:516.00px;top:678px;line-height:16px;font-size:14px;color:#60667b;letter-spacing:-0.245px;">View QR Code</span>
<div class="b" style="left:496.3px;top:708.7px;width:213.2px;height:1px;background:#e6e6e6;"></div>
<span class="t" style="left:516.00px;top:723px;line-height:16px;font-size:14px;color:#60667b;letter-spacing:-0.173px;">Regenerate Invoice</span>
<svg style="left:560px;top:470px" width="80" height="40" viewBox="560 470 80 40"><path d="M626.6 476.1L628 480.7L592.9 492.5L594.7 499.5L572.8 495.8L588.6 480.1L591.4 487Z" fill="#4bb430"/></svg>
<svg style="left:610px;top:645px" width="240" height="30" viewBox="610 645 240 30"><path d="M840.2 657.8V662.3H637.4V670.3L617.2 660L637.4 649.5V657.8Z" fill="#4bb430"/></svg>
</body></html>
